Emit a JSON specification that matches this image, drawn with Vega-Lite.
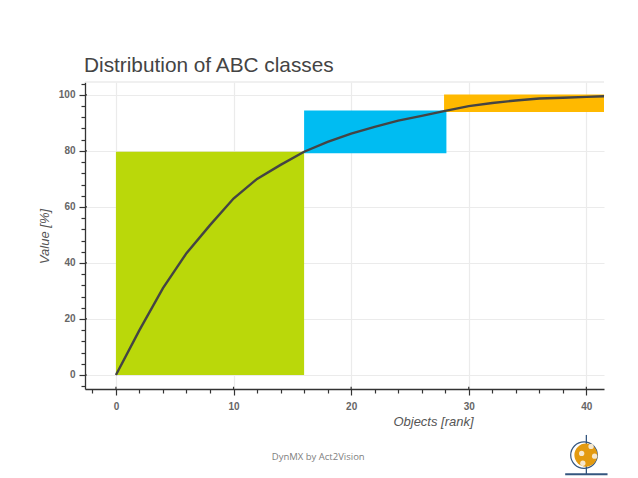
{
  "$schema": "https://vega.github.io/schema/vega-lite/v6.json",
  "width": 519,
  "height": 307,
  "autosize": "none",
  "padding": {"left": 85, "top": 82, "right": 34, "bottom": 89},
  "background": "white",
  "title": {
    "text": "Distribution of ABC classes",
    "anchor": "start",
    "frame": "group",
    "font": "Liberation Sans",
    "fontSize": 20.8,
    "fontWeight": "normal",
    "color": "#444444",
    "dx": -1,
    "offset": 2
  },
  "datasets": {
    "classes": [
      {"class": "A", "x0": 0, "x1": 16, "y0": 0, "y1": 79.7},
      {"class": "B", "x0": 16, "x1": 28.1, "y0": 79.2, "y1": 94.4},
      {"class": "C", "x0": 27.9, "x1": 41.5, "y0": 93.9, "y1": 100.1}
    ],
    "curve": [
      {"rank": 0, "value": 0},
      {"rank": 2, "value": 16},
      {"rank": 4, "value": 31},
      {"rank": 6, "value": 43.5},
      {"rank": 8, "value": 53.5},
      {"rank": 10, "value": 63},
      {"rank": 12, "value": 70},
      {"rank": 14, "value": 75},
      {"rank": 16, "value": 79.7},
      {"rank": 18, "value": 83.2},
      {"rank": 20, "value": 86.2},
      {"rank": 22, "value": 88.6},
      {"rank": 24, "value": 90.8},
      {"rank": 26, "value": 92.5},
      {"rank": 28, "value": 94.3},
      {"rank": 30, "value": 96},
      {"rank": 32, "value": 97.1},
      {"rank": 34, "value": 98},
      {"rank": 36, "value": 98.7},
      {"rank": 38, "value": 99},
      {"rank": 40, "value": 99.3},
      {"rank": 41.5, "value": 99.5}
    ],
    "majorX": [
      {"rank": 0, "from": -5, "to": -4.2},
      {"rank": 10, "from": -5, "to": -4.2},
      {"rank": 20, "from": -5, "to": -4.2},
      {"rank": 30, "from": -5, "to": -4.2},
      {"rank": 40, "from": -5, "to": -4.2}
    ],
    "majorY": [
      {"value": 0, "from": -2.63, "to": -2.46},
      {"value": 20, "from": -2.63, "to": -2.46},
      {"value": 40, "from": -2.63, "to": -2.46},
      {"value": 60, "from": -2.63, "to": -2.46},
      {"value": 80, "from": -2.63, "to": -2.46},
      {"value": 100, "from": -2.63, "to": -2.46}
    ],
    "footer": [{"rank": 17.2, "value": -29.3, "label": "DynMX by Act2Vision"}],
    "globe": [{"rank": 39.96, "value": -28.6}],
    "globeRing": [{"rank": 39.8, "value": -28.6}],
    "globeLand": [
      {"rank": 40.4, "value": -25.5},
      {"rank": 39.6, "value": -28},
      {"rank": 40.7, "value": -29},
      {"rank": 39.7, "value": -31.5}
    ],
    "standPole": [{"rank": 40, "value": -21.4, "value2": -35.4}],
    "standBase": [{"rank": 38.2, "rank2": 41.8, "value": -35.4}],
    "topLine": [{"value": 104.6}]
  },
  "layer": [
    {
      "data": {"name": "topLine"},
      "mark": {"type": "rule", "color": "#ebebeb", "strokeWidth": 1.5},
      "encoding": {"y": {"field": "value", "type": "quantitative"}}
    },
    {
      "data": {"name": "classes"},
      "mark": {"type": "rect"},
      "encoding": {
        "x": {
          "field": "x0",
          "type": "quantitative",
          "scale": {"domain": [-2.63, 41.5], "nice": false, "zero": false},
          "axis": {
            "values": [-2, 0, 2, 4, 6, 8, 10, 12, 14, 16, 18, 20, 22, 24, 26, 28, 30, 32, 34, 36, 38, 40],
            "tickCount": 100,
            "format": "d",
            "title": "Objects [rank]",
            "titleFont": "Liberation Sans",
            "titleFontStyle": "italic",
            "titleFontWeight": "normal",
            "titleFontSize": 13,
            "titleColor": "#555555",
            "titleX": 348,
            "titleY": 26,
            "titleAnchor": "middle",
            "titleAlign": "center",
            "labelExpr": "datum.value % 10 == 0 ? datum.label : ''",
            "labelFont": "Liberation Sans",
            "labelFontWeight": "bold",
            "labelFontSize": 10,
            "labelColor": "#666666",
            "labelPadding": 6,
            "labelOverlap": false,
            "labelFlush": false,
            "domainColor": "#333333",
            "domainWidth": 1.3,
            "tickColor": "#333333",
            "tickWidth": 1.2,
            "tickSize": {"condition": {"test": "datum.value % 10 == 0", "value": 6}, "value": 4},
            "grid": true,
            "gridColor": {"condition": {"test": "datum.value % 10 == 0", "value": "#ebebeb"}, "value": "transparent"},
            "gridWidth": 1.2
          }
        },
        "x2": {"field": "x1"},
        "y": {
          "field": "y0",
          "type": "quantitative",
          "scale": {"domain": [-5, 104.6], "nice": false, "zero": false},
          "axis": {
            "values": [-4, 0, 4, 8, 12, 16, 20, 24, 28, 32, 36, 40, 44, 48, 52, 56, 60, 64, 68, 72, 76, 80, 84, 88, 92, 96, 100, 104],
            "tickCount": 100,
            "format": "d",
            "title": "Value [%]",
            "titleFont": "Liberation Sans",
            "titleFontStyle": "italic",
            "titleFontWeight": "normal",
            "titleFontSize": 13,
            "titleColor": "#555555",
            "titleX": -34,
            "titleY": 154,
            "titleAngle": -90,
            "labelExpr": "datum.value % 20 == 0 ? datum.label : ''",
            "labelFont": "Liberation Sans",
            "labelFontWeight": "bold",
            "labelFontSize": 10,
            "labelColor": "#666666",
            "labelPadding": 4,
            "labelOverlap": false,
            "domainColor": "#333333",
            "domainWidth": 1.3,
            "tickColor": "#333333",
            "tickWidth": 1.2,
            "tickSize": {"condition": {"test": "datum.value % 20 == 0", "value": 6}, "value": 4},
            "grid": true,
            "gridColor": {"condition": {"test": "datum.value % 20 == 0", "value": "#ebebeb"}, "value": "transparent"},
            "gridWidth": 1.2
          }
        },
        "y2": {"field": "y1"},
        "color": {
          "field": "class",
          "type": "nominal",
          "scale": {"domain": ["A", "B", "C"], "range": ["#BAD80A", "#00BCF2", "#FFB900"]},
          "legend": null
        }
      }
    },
    {
      "data": {"name": "curve"},
      "mark": {"type": "line", "color": "#444444", "strokeWidth": 2.4},
      "encoding": {
        "x": {"field": "rank", "type": "quantitative"},
        "y": {"field": "value", "type": "quantitative"}
      }
    },
    {
      "data": {"name": "majorX"},
      "mark": {"type": "rule", "color": "#333333", "strokeWidth": 1.2},
      "encoding": {
        "x": {"field": "rank", "type": "quantitative"},
        "y": {"field": "from", "type": "quantitative"},
        "y2": {"field": "to"}
      }
    },
    {
      "data": {"name": "majorY"},
      "mark": {"type": "rule", "color": "#333333", "strokeWidth": 1.2},
      "encoding": {
        "y": {"field": "value", "type": "quantitative"},
        "x": {"field": "from", "type": "quantitative"},
        "x2": {"field": "to"}
      }
    },
    {
      "data": {"name": "footer"},
      "mark": {"type": "text", "font": "Open Sans", "fontSize": 9.5, "color": "#808080", "align": "center"},
      "encoding": {
        "x": {"field": "rank", "type": "quantitative"},
        "y": {"field": "value", "type": "quantitative"},
        "text": {"field": "label"}
      }
    },
    {
      "data": {"name": "standPole"},
      "mark": {"type": "rule", "color": "#34567f", "strokeWidth": 1.3},
      "encoding": {
        "x": {"field": "rank", "type": "quantitative"},
        "y": {"field": "value", "type": "quantitative"},
        "y2": {"field": "value2"}
      }
    },
    {
      "data": {"name": "standBase"},
      "mark": {"type": "rule", "color": "#34567f", "strokeWidth": 2},
      "encoding": {
        "x": {"field": "rank", "type": "quantitative"},
        "x2": {"field": "rank2"},
        "y": {"field": "value", "type": "quantitative"}
      }
    },
    {
      "data": {"name": "globeRing"},
      "mark": {"type": "point", "shape": "circle", "size": 707, "filled": false, "color": "#34567f", "strokeWidth": 1.2, "opacity": 1},
      "encoding": {
        "x": {"field": "rank", "type": "quantitative"},
        "y": {"field": "value", "type": "quantitative"}
      }
    },
    {
      "data": {"name": "globe"},
      "mark": {"type": "point", "shape": "circle", "size": 531, "filled": true, "color": "#E39A0F", "opacity": 1},
      "encoding": {
        "x": {"field": "rank", "type": "quantitative"},
        "y": {"field": "value", "type": "quantitative"}
      }
    },
    {
      "data": {"name": "globeLand"},
      "mark": {"type": "point", "shape": "circle", "size": 28, "filled": true, "color": "#F6E7CC", "opacity": 1},
      "encoding": {
        "x": {"field": "rank", "type": "quantitative"},
        "y": {"field": "value", "type": "quantitative"}
      }
    }
  ],
  "config": {"view": {"stroke": null}}
}
